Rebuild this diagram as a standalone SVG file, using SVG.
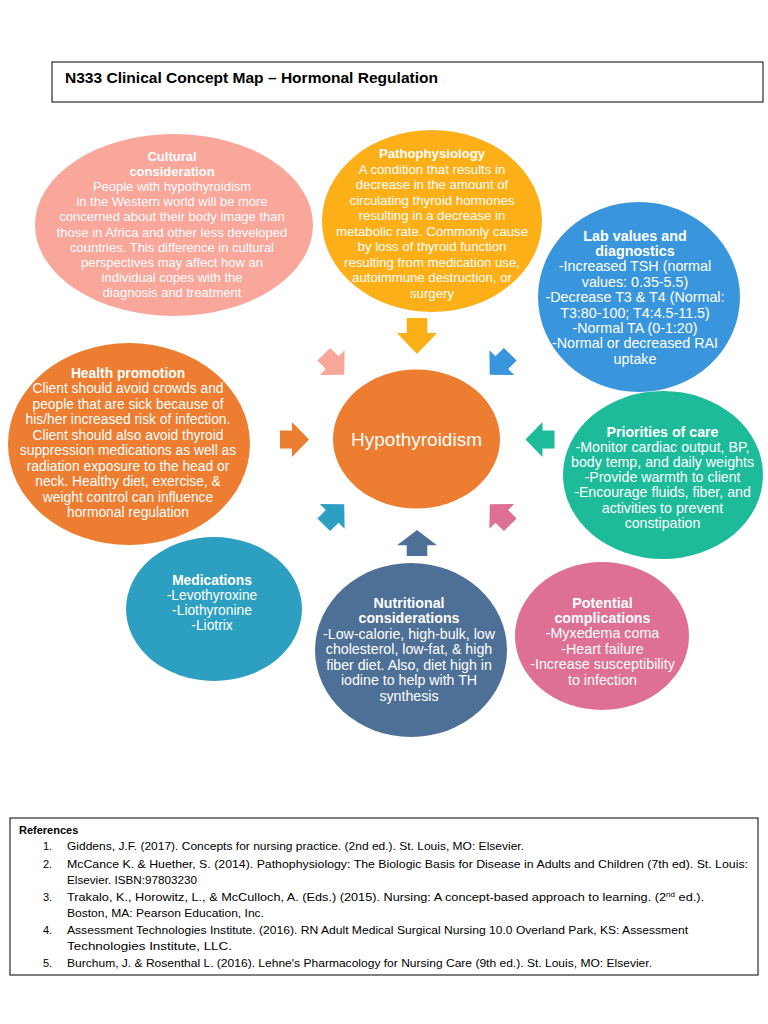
<svg xmlns="http://www.w3.org/2000/svg" width="768" height="1024" viewBox="0 0 768 1024">
<style>
.t{font-family:"Liberation Sans",Arial,sans-serif;font-size:13px;fill:#fff;text-anchor:middle}
.b{font-weight:bold}
.ref{font-family:"Liberation Sans",Arial,sans-serif;font-size:11px;fill:#000}
.box{fill:#fff;stroke:#000;stroke-width:1}
</style>
<defs>
<path id="arr" d="M-14.5,-9 H-2.5 V-17.5 L14.5,0 L-2.5,17.5 V9 H-14.5 Z"/>
</defs>
<rect width="768" height="1024" fill="#fff"/>
<g id="title">
<rect class="box" x="52" y="62" width="711" height="40"/>
<text x="65" y="83" font-family="Liberation Sans,Arial,sans-serif" font-size="15" font-weight="bold" textLength="373" lengthAdjust="spacingAndGlyphs">N333 Clinical Concept Map – Hormonal Regulation</text>
</g>
<g id="connectors">
<use href="#arr" fill="#fcaf17" transform="translate(417,336) rotate(90) scale(1.24,1.14)"/>
<use href="#arr" fill="#f9a69b" transform="translate(334,364.5) rotate(45)"/>
<use href="#arr" fill="#3a96dc" transform="translate(500,364.5) rotate(135)"/>
<use href="#arr" fill="#ed7d31" transform="translate(294.5,439.5)"/>
<use href="#arr" fill="#1dbb9a" transform="translate(540,439.5) rotate(180)"/>
<use href="#arr" fill="#2d9fc1" transform="translate(334,514.5) rotate(-45)"/>
<use href="#arr" fill="#de7094" transform="translate(500,514.5) rotate(-135)"/>
<use href="#arr" fill="#4e7096" transform="translate(417,543) rotate(-90) scale(0.9,1.14)"/>
</g>
<g id="cultural">
<ellipse cx="174" cy="225" rx="139" ry="91" fill="#f9a69b"/>
<text class="t" y="161"><tspan x="172" class="b">Cultural</tspan><tspan x="172" dy="15.1" class="b">consideration</tspan><tspan x="172" dy="15.1">People with hypothyroidism</tspan><tspan x="172" dy="15.1">in the Western world will be more</tspan><tspan x="172" dy="15.1">concerned about their body image than</tspan><tspan x="172" dy="15.1">those in Africa and other less developed</tspan><tspan x="172" dy="15.1">countries. This difference in cultural</tspan><tspan x="172" dy="15.1">perspectives may affect how an</tspan><tspan x="172" dy="15.1">individual copes with the</tspan><tspan x="172" dy="15.1">diagnosis and treatment</tspan></text>
</g>
<g id="pathophysiology">
<ellipse cx="432" cy="221" rx="110" ry="91" fill="#fcaf17"/>
<text class="t" y="158" style="font-size:13.2px"><tspan x="432" class="b">Pathophysiology</tspan><tspan x="432" dy="15.5">A condition that results in</tspan><tspan x="432" dy="15.5">decrease in the amount of</tspan><tspan x="432" dy="15.5">circulating thyroid hormones</tspan><tspan x="432" dy="15.5">resulting in a decrease in</tspan><tspan x="432" dy="15.5">metabolic rate. Commonly cause</tspan><tspan x="432" dy="15.5">by loss of thyroid function</tspan><tspan x="432" dy="15.5">resulting from medication use,</tspan><tspan x="432" dy="15.5">autoimmune destruction, or</tspan><tspan x="432" dy="15.5">surgery</tspan></text>
</g>
<g id="lab">
<ellipse cx="639" cy="297" rx="101" ry="95" fill="#3a96dc"/>
<text class="t" y="240.5" style="font-size:14.3px"><tspan x="635" class="b">Lab values and</tspan><tspan x="635" dy="15.4" class="b">diagnostics</tspan><tspan x="635" dy="15.4">-Increased TSH (normal</tspan><tspan x="635" dy="15.4">values: 0.35-5.5)</tspan><tspan x="635" dy="15.4">-Decrease T3 &amp; T4 (Normal:</tspan><tspan x="635" dy="15.4">T3:80-100; T4:4.5-11.5)</tspan><tspan x="635" dy="15.4">-Normal TA (0-1:20)</tspan><tspan x="635" dy="15.4">-Normal or decreased RAI</tspan><tspan x="635" dy="15.4">uptake</tspan></text>
</g>
<g id="health">
<ellipse cx="129" cy="444" rx="121" ry="101" fill="#ed7d31"/>
<text class="t" y="377.5" style="font-size:13.8px"><tspan x="128" class="b">Health promotion</tspan><tspan x="128" dy="15.55">Client should avoid crowds and</tspan><tspan x="128" dy="15.55">people that are sick because of</tspan><tspan x="128" dy="15.55">his/her increased risk of infection.</tspan><tspan x="128" dy="15.55">Client should also avoid thyroid</tspan><tspan x="128" dy="15.55">suppression medications as well as</tspan><tspan x="128" dy="15.55">radiation exposure to the head or</tspan><tspan x="128" dy="15.55">neck. Healthy diet, exercise, &amp;</tspan><tspan x="128" dy="15.55">weight control can influence</tspan><tspan x="128" dy="15.55">hormonal regulation</tspan></text>
</g>
<g id="priorities">
<ellipse cx="663" cy="475" rx="100" ry="84" fill="#1dbb9a"/>
<text class="t" y="436.5" style="font-size:14.2px"><tspan x="662.5" class="b">Priorities of care</tspan><tspan x="662.5" dy="15.2">-Monitor cardiac output, BP,</tspan><tspan x="662.5" dy="15.2">body temp, and daily weights</tspan><tspan x="662.5" dy="15.2">-Provide warmth to client</tspan><tspan x="662.5" dy="15.2">-Encourage fluids, fiber, and</tspan><tspan x="662.5" dy="15.2">activities to prevent</tspan><tspan x="662.5" dy="15.2">constipation</tspan></text>
</g>
<g id="hypothyroidism">
<ellipse cx="416.5" cy="439" rx="83.5" ry="69.5" fill="#ed7d31"/>
<text class="t" x="416.5" y="446" style="font-size:19px">Hypothyroidism</text>
</g>
<g id="medications">
<ellipse cx="214" cy="609" rx="88" ry="72" fill="#2d9fc1"/>
<text class="t" y="584.5" style="font-size:13.8px"><tspan x="212" class="b">Medications</tspan><tspan x="212" dy="15.3">-Levothyroxine</tspan><tspan x="212" dy="15.3">-Liothyronine</tspan><tspan x="212" dy="15.3">-Liotrix</tspan></text>
</g>
<g id="nutritional">
<ellipse cx="411" cy="650" rx="96" ry="87" fill="#4e7096"/>
<text class="t" y="607.5" style="font-size:14.2px"><tspan x="409" class="b">Nutritional</tspan><tspan x="409" dy="15.5" class="b">considerations</tspan><tspan x="409" dy="15.5">-Low-calorie, high-bulk, low</tspan><tspan x="409" dy="15.5">cholesterol, low-fat, &amp; high</tspan><tspan x="409" dy="15.5">fiber diet. Also, diet high in</tspan><tspan x="409" dy="15.5">iodine to help with TH</tspan><tspan x="409" dy="15.5">synthesis</tspan></text>
</g>
<g id="complications">
<ellipse cx="602" cy="636" rx="87" ry="74" fill="#de7094"/>
<text class="t" y="607.5" style="font-size:14.3px"><tspan x="602.5" class="b">Potential</tspan><tspan x="602.5" dy="15.4" class="b">complications</tspan><tspan x="602.5" dy="15.4">-Myxedema coma</tspan><tspan x="602.5" dy="15.4">-Heart failure</tspan><tspan x="602.5" dy="15.4">-Increase susceptibility</tspan><tspan x="602.5" dy="15.4">to infection</tspan></text>
</g>
<g id="references">
<rect class="box" x="10" y="818" width="748" height="157"/>
<text class="ref" x="19" y="834" font-weight="bold">References</text>
<text class="ref" x="43" y="850">1.</text>
<text class="ref" x="67" y="850" textLength="457" lengthAdjust="spacingAndGlyphs">Giddens, J.F. (2017). Concepts for nursing practice. (2nd ed.). St. Louis, MO: Elsevier.</text>
<text class="ref" x="43" y="868">2.</text>
<text class="ref" x="67" y="868" textLength="681" lengthAdjust="spacingAndGlyphs">McCance K. &amp; Huether, S. (2014). Pathophysiology: The Biologic Basis for Disease in Adults and Children (7th ed). St. Louis:</text>
<text class="ref" x="67" y="884" textLength="130" lengthAdjust="spacingAndGlyphs">Elsevier. ISBN:97803230</text>
<text class="ref" x="43" y="901">3.</text>
<text class="ref" x="67" y="901" textLength="637" lengthAdjust="spacingAndGlyphs">Trakalo, K., Horowitz, L., &amp; McCulloch, A. (Eds.) (2015). Nursing: A concept-based approach to learning. (2<tspan font-size="7" dy="-4">nd</tspan><tspan dy="4"> ed.).</tspan></text>
<text class="ref" x="67" y="917" textLength="197" lengthAdjust="spacingAndGlyphs">Boston, MA: Pearson Education, Inc.</text>
<text class="ref" x="43" y="934">4.</text>
<text class="ref" x="67" y="934" textLength="621" lengthAdjust="spacingAndGlyphs">Assessment Technologies Institute. (2016). RN Adult Medical Surgical Nursing 10.0 Overland Park, KS: Assessment</text>
<text class="ref" x="67" y="950" textLength="165" lengthAdjust="spacingAndGlyphs">Technologies Institute, LLC.</text>
<text class="ref" x="43" y="967">5.</text>
<text class="ref" x="67" y="967" textLength="585" lengthAdjust="spacingAndGlyphs">Burchum, J. &amp; Rosenthal L. (2016). Lehne's Pharmacology for Nursing Care (9th ed.). St. Louis, MO: Elsevier.</text>
</g>
</svg>
